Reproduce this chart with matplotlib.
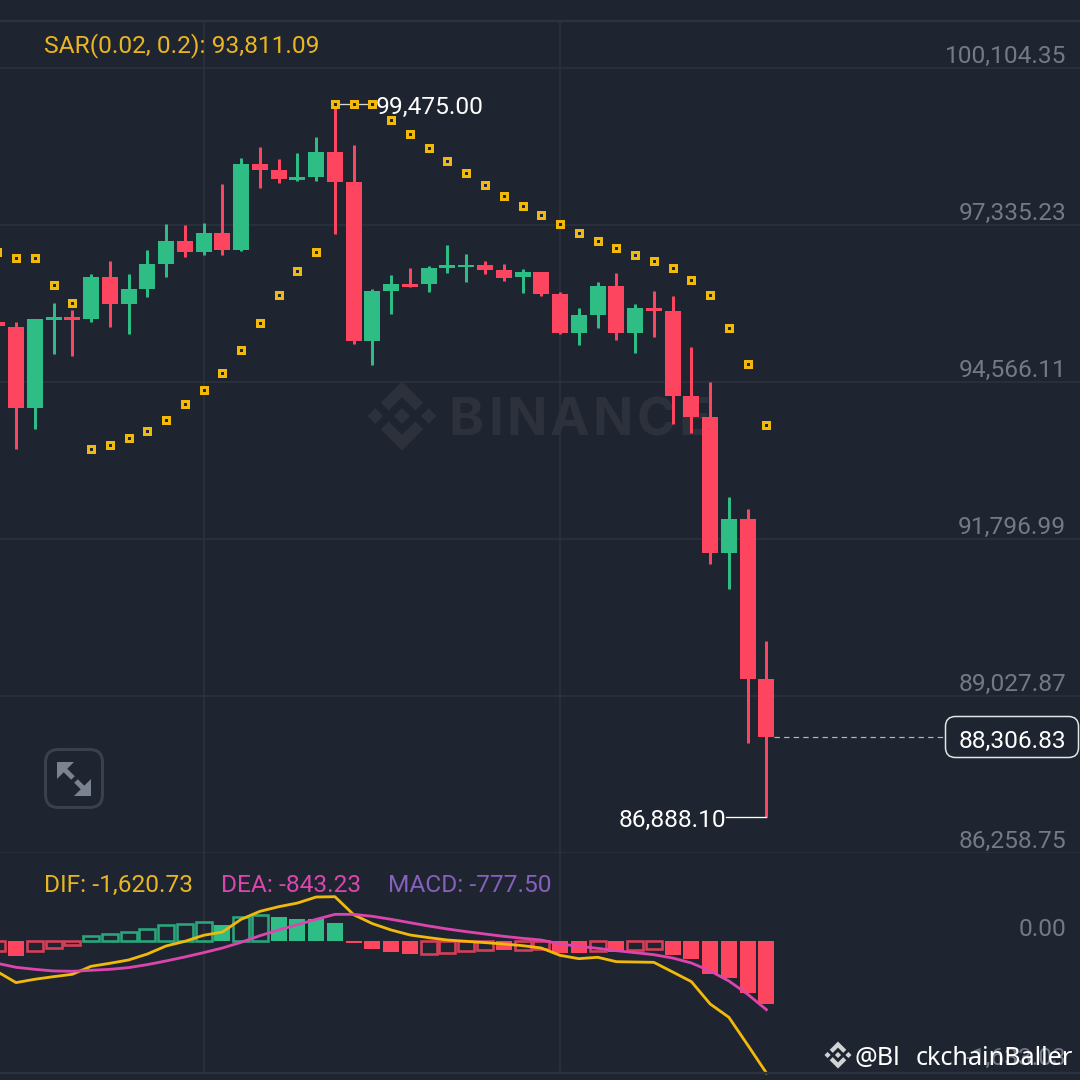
import numpy as np
import matplotlib.pyplot as plt
from matplotlib.patches import FancyBboxPatch, Polygon

# 颜色
BG = '#1f2530'
GRID = '#2c323e'
UP = '#2ebd85'
DOWN = '#fe4560'
GOLD = '#f0b90b'
LABEL_GOLD = '#e9b522'
PINK = '#dc45ae'
PURPLE = '#8660bc'
TICK = '#737a86'

# K线数据
candle_idx = list(range(-1, 41))
opens = [95630, 95541, 94102, 95665, 95707, 95683, 96418, 95942, 96201, 96642, 97048,
         96864, 97199, 96900, 98416, 98300, 98134, 98176, 98623, 98099, 95284,
         96176, 96295, 96289, 96577, 96589, 96630, 96541, 96413, 96506, 96113,
         95435, 95748, 96254, 95435, 95866, 95818, 94324, 93943, 91555, 92150, 89322]
closes = [95548, 94102, 95672, 95713, 95660, 96418, 95942, 96201, 96642, 97048, 96864,
          97199, 96900, 98416, 98300, 98141, 98182, 98623, 98099, 95284, 96176,
          96295, 96242, 96577, 96624, 96635, 96547, 96406, 96506, 96113, 95435,
          95748, 96254, 95435, 95866, 95818, 94324, 93943, 91555, 92150, 89322, 88306.83]
highs = [95640, 95624, 95672, 95954, 95836, 96466, 96695, 96471, 96894, 97353, 97335,
         97376, 98053, 98512, 98706, 98494, 98605, 98893, 99475, 98746, 96201,
         96453, 96577, 96607, 96977, 96824, 96695, 96647, 96554, 96506, 96153,
         95871, 96330, 96494, 95942, 96171, 96088, 95189, 94561, 92538, 92321, 89998]
lows = [95500, 93390, 93732, 95055, 95030, 95619, 95536, 95407, 96060, 96413, 96776,
        96801, 96801, 96882, 97993, 98076, 98117, 98111, 97176, 95241, 94866,
        95765, 96242, 96148, 96483, 96335, 96471, 96347, 96141, 96083, 95407,
        95224, 95524, 95307, 95072, 95354, 93825, 93672, 91356, 90910, 88204, 86888.10]

# SAR
sar = [96854, 96748, 96748, 96277, 95954, 93390, 93450, 93578, 93707, 93896, 94173,
       94425, 94725, 95125, 95601, 96095, 96519, 96864, 99475, 99475, 99475,
       99192, 98935, 98688, 98464, 98247, 98041, 97852, 97676, 97506, 97347,
       97199, 97058, 96930, 96806, 96695, 96582, 96360, 96095, 95524, 94878, 93811.09]

# MACD
hist = [-119, -184, -127, -82, -49, 61, 82, 110, 151, 200, 209,
        229, 200, 294, 315, 294, 270, 266, 225, -29, -94,
        -135, -165, -164, -143, -127, -115, -115, -106, -98, -151,
        -152, -123, -131, -110, -98, -168, -225, -405, -454, -638, -777.50]
dif = [-376, -511, -470, -438, -409, -311, -274, -233, -160, -61, -4,
       70, 110, 266, 364, 421, 466, 540, 544, 323, 213,
       135, 74, 41, 12, -4, -20, -37, -57, -86, -176,
       -217, -200, -254, -258, -262, -380, -499, -773, -937, -1276, -1620.73]
dea = [-274, -323, -348, -368, -372, -360, -348, -327, -290, -245, -196,
       -143, -86, -16, 65, 135, 200, 266, 327, 327, 303,
       266, 225, 184, 147, 115, 86, 57, 33, 12, -37,
       -65, -90, -119, -143, -168, -209, -270, -368, -491, -654, -843.23]

# 刻度
price_ticks = [100104.35, 97335.23, 94566.11, 91796.99, 89027.87, 86258.75]
price_labels = ['100,104.35', '97,335.23', '94,566.11', '91,796.99', '89,027.87', '86,258.75']
time_ticks = [10, 29]
macd_ticks = [0.0, -1633.0]
macd_labels = ['0.00', '-1,633.03']

plt.rcParams['font.family'] = ['Roboto', 'DejaVu Sans']
PX = 72 / 100  # 1像素对应的磅数
FS = 24.5 * PX

XLIM = (-0.853, 56.716)


def draw_logo(ax, cx, cy, width, color):
    # 币安图标
    shapes = [
        [(38.73, 53.2), (63.3, 28.63), (87.88, 53.21), (102.18, 38.91), (63.3, 0), (24.43, 38.87)],
        [(0, 63.31), (14.3, 49), (28.6, 63.31), (14.3, 77.61)],
        [(38.73, 73.41), (63.3, 97.98), (87.88, 73.4), (102.19, 87.69), (63.3, 126.61), (24.42, 87.73)],
        [(98, 63.31), (112.3, 49), (126.6, 63.3), (112.3, 77.61)],
        [(77.83, 63.3), (63.3, 48.76), (48.77, 63.28), (63.3, 77.85)],
    ]
    s = width / 126.6
    for pts in shapes:
        xy = [(cx + (px - 63.3) * s, cy + (py - 63.3) * s) for px, py in pts]
        ax.add_patch(Polygon(xy, closed=True, facecolor=color, edgecolor='none'))


def pixel_axes(fig, zorder):
    ax = fig.add_axes([0, 0, 1, 1], zorder=zorder)
    ax.set_xlim(0, 1080)
    ax.set_ylim(1080, 0)
    ax.axis('off')
    return ax


def style_axes(ax):
    ax.set_facecolor('none')
    ax.set_xlim(*XLIM)
    ax.set_xticks(time_ticks)
    ax.tick_params(length=0, labelbottom=False, labelleft=False)
    ax.grid(True, color=GRID, linewidth=1.5 * PX)
    ax.set_axisbelow(True)
    for s in ax.spines.values():
        s.set_visible(False)


def y_label(ax, value, text, dy=5.5):
    ax.annotate(text, xy=(1, value), xycoords=ax.get_yaxis_transform(),
                xytext=(-14, dy), textcoords='offset pixels',
                ha='right', va='baseline', color=TICK, fontsize=FS)


fig = plt.figure(figsize=(10.8, 10.8), dpi=100, facecolor=BG)

# 背景水印
back = pixel_axes(fig, 0)
draw_logo(back, 402, 416, 69, '#2c313c')
for ch, lx in zip('BINANCE', [448, 488, 506, 550, 593, 637, 678]):
    back.text(lx, 435, ch, color='#2c313c', fontsize=53 * PX, fontweight='bold',
              family='Inter', ha='left', va='baseline')

# 主图
ax = fig.add_axes([0, (1080 - 853) / 1080, 1, (853 - 21) / 1080], zorder=1)
style_axes(ax)
ax.set_ylim(86258.75, 100933.3)
ax.set_yticks(price_ticks)

x = np.array(candle_idx)
o = np.array(opens, dtype=float)
c = np.array(closes, dtype=float)
colors = [UP if cc > oo else DOWN for oo, cc in zip(o, c)]
ax.vlines(x, lows, highs, colors=colors, linewidth=3 * PX, zorder=3)
ax.bar(x, np.abs(c - o), bottom=np.minimum(o, c), width=0.853, color=colors, linewidth=0, zorder=4)

# 最高最低标注
ax.plot([17, 19.2], [99475, 99475], color='#d5d7da', linewidth=1.3 * PX, zorder=5)
ax.annotate('99,475.00', xy=(19.2, 99475), xytext=(0, -10), textcoords='offset pixels',
            color='#ffffff', fontsize=FS, ha='left', va='baseline', zorder=8)
ax.plot([40, 37.85], [86888.10, 86888.10], color='#ffffff', linewidth=1.3 * PX, zorder=5)
ax.annotate('86,888.10', xy=(37.85, 86888.10), xytext=(0, -10), textcoords='offset pixels',
            color='#ffffff', fontsize=FS, ha='right', va='baseline', zorder=8)

# SAR点
ax.plot(x, sar, linestyle='none', marker='s', markersize=6 * PX, markerfacecolor=BG,
        markeredgecolor=GOLD, markeredgewidth=3 * PX, zorder=6)

# 现价虚线
ax.plot([40.43, 49.52], [closes[-1], closes[-1]], color='#b4b7bc', linewidth=1.2 * PX,
        dashes=(4.5, 3.5), zorder=5)

for val, lab in zip(price_ticks, price_labels):
    y_label(ax, val, lab)

# MACD副图
ax2 = fig.add_axes([0, (1080 - 1073) / 1080, 1, (1073 - 853) / 1080], zorder=1)
style_axes(ax2)
ax2.set_ylim(-1621, 1080.6)
ax2.set_yticks([])

h = np.array(hist)
hollow = np.r_[True, h[1:] > h[:-1]]
bar_colors = np.array([UP if v > 0 else DOWN for v in h])
ax2.bar(x[~hollow], h[~hollow], width=0.853, color=bar_colors[~hollow], linewidth=0, zorder=3)
edge = ['#2aa67a' if v > 0 else '#d63f58' for v in h[hollow]]
ax2.bar(x[hollow], h[hollow], width=0.853, fill=False, edgecolor=edge, linewidth=2.6 * PX, zorder=3)
ax2.plot(x, dif, color=GOLD, linewidth=2.8 * PX, zorder=4, clip_on=False)
ax2.plot(x, dea, color=PINK, linewidth=2.8 * PX, zorder=5)

y_label(ax2, macd_ticks[0], macd_labels[0], dy=5)
y_label(ax2, macd_ticks[1], macd_labels[1], dy=9)

# 上层文字和控件
top = pixel_axes(fig, 2)
top.plot([0, 1080], [21, 21], color=GRID, linewidth=2.4 * PX)
top.plot([0, 1080], [1073, 1073], color=GRID, linewidth=2.4 * PX)
top.text(44, 52.5, 'SAR(0.02, 0.2): 93,811.09', color=LABEL_GOLD, fontsize=FS, va='baseline')
top.text(44, 891.5, 'DIF: -1,620.73', color=LABEL_GOLD, fontsize=FS, va='baseline')
top.text(221, 891.5, 'DEA: -843.23', color=PINK, fontsize=FS, va='baseline')
top.text(388, 891.5, 'MACD: -777.50', color=PURPLE, fontsize=FS, va='baseline')

# 现价标签
top.add_patch(FancyBboxPatch((945.5, 716.5), 133, 41, boxstyle='round,pad=0,rounding_size=10',
                             facecolor=BG, edgecolor='#e4e5e7', linewidth=1.5 * PX))
top.text(1066, 748, '88,306.83', color='#ffffff', fontsize=FS, ha='right', va='baseline')

# 全屏按钮
top.add_patch(FancyBboxPatch((45.5, 749.5), 57, 58, boxstyle='round,pad=0,rounding_size=13',
                             facecolor='none', edgecolor='#3a404c', linewidth=3 * PX))
btn = '#7c8390'
top.add_patch(Polygon([(57, 762), (74, 762), (57, 779)], closed=True, facecolor=btn, edgecolor='none'))
top.add_patch(Polygon([(91, 796), (74, 796), (91, 779)], closed=True, facecolor=btn, edgecolor='none'))
top.plot([64, 73], [769, 778], color=btn, linewidth=5 * PX, solid_capstyle='butt')
top.plot([76, 85], [781, 790], color=btn, linewidth=5 * PX, solid_capstyle='butt')

# 右下角署名
draw_logo(top, 838, 1055, 27, '#d2d3d5')
top.text(855, 1065, '@Bl', color='#ffffff', fontsize=25.2 * PX, family='Noto Sans', va='baseline')
top.text(916, 1065, 'ckchainBaller', color='#ffffff', fontsize=25.2 * PX, family='Noto Sans', va='baseline')

fig.savefig('out.png', dpi=100, facecolor=BG)
